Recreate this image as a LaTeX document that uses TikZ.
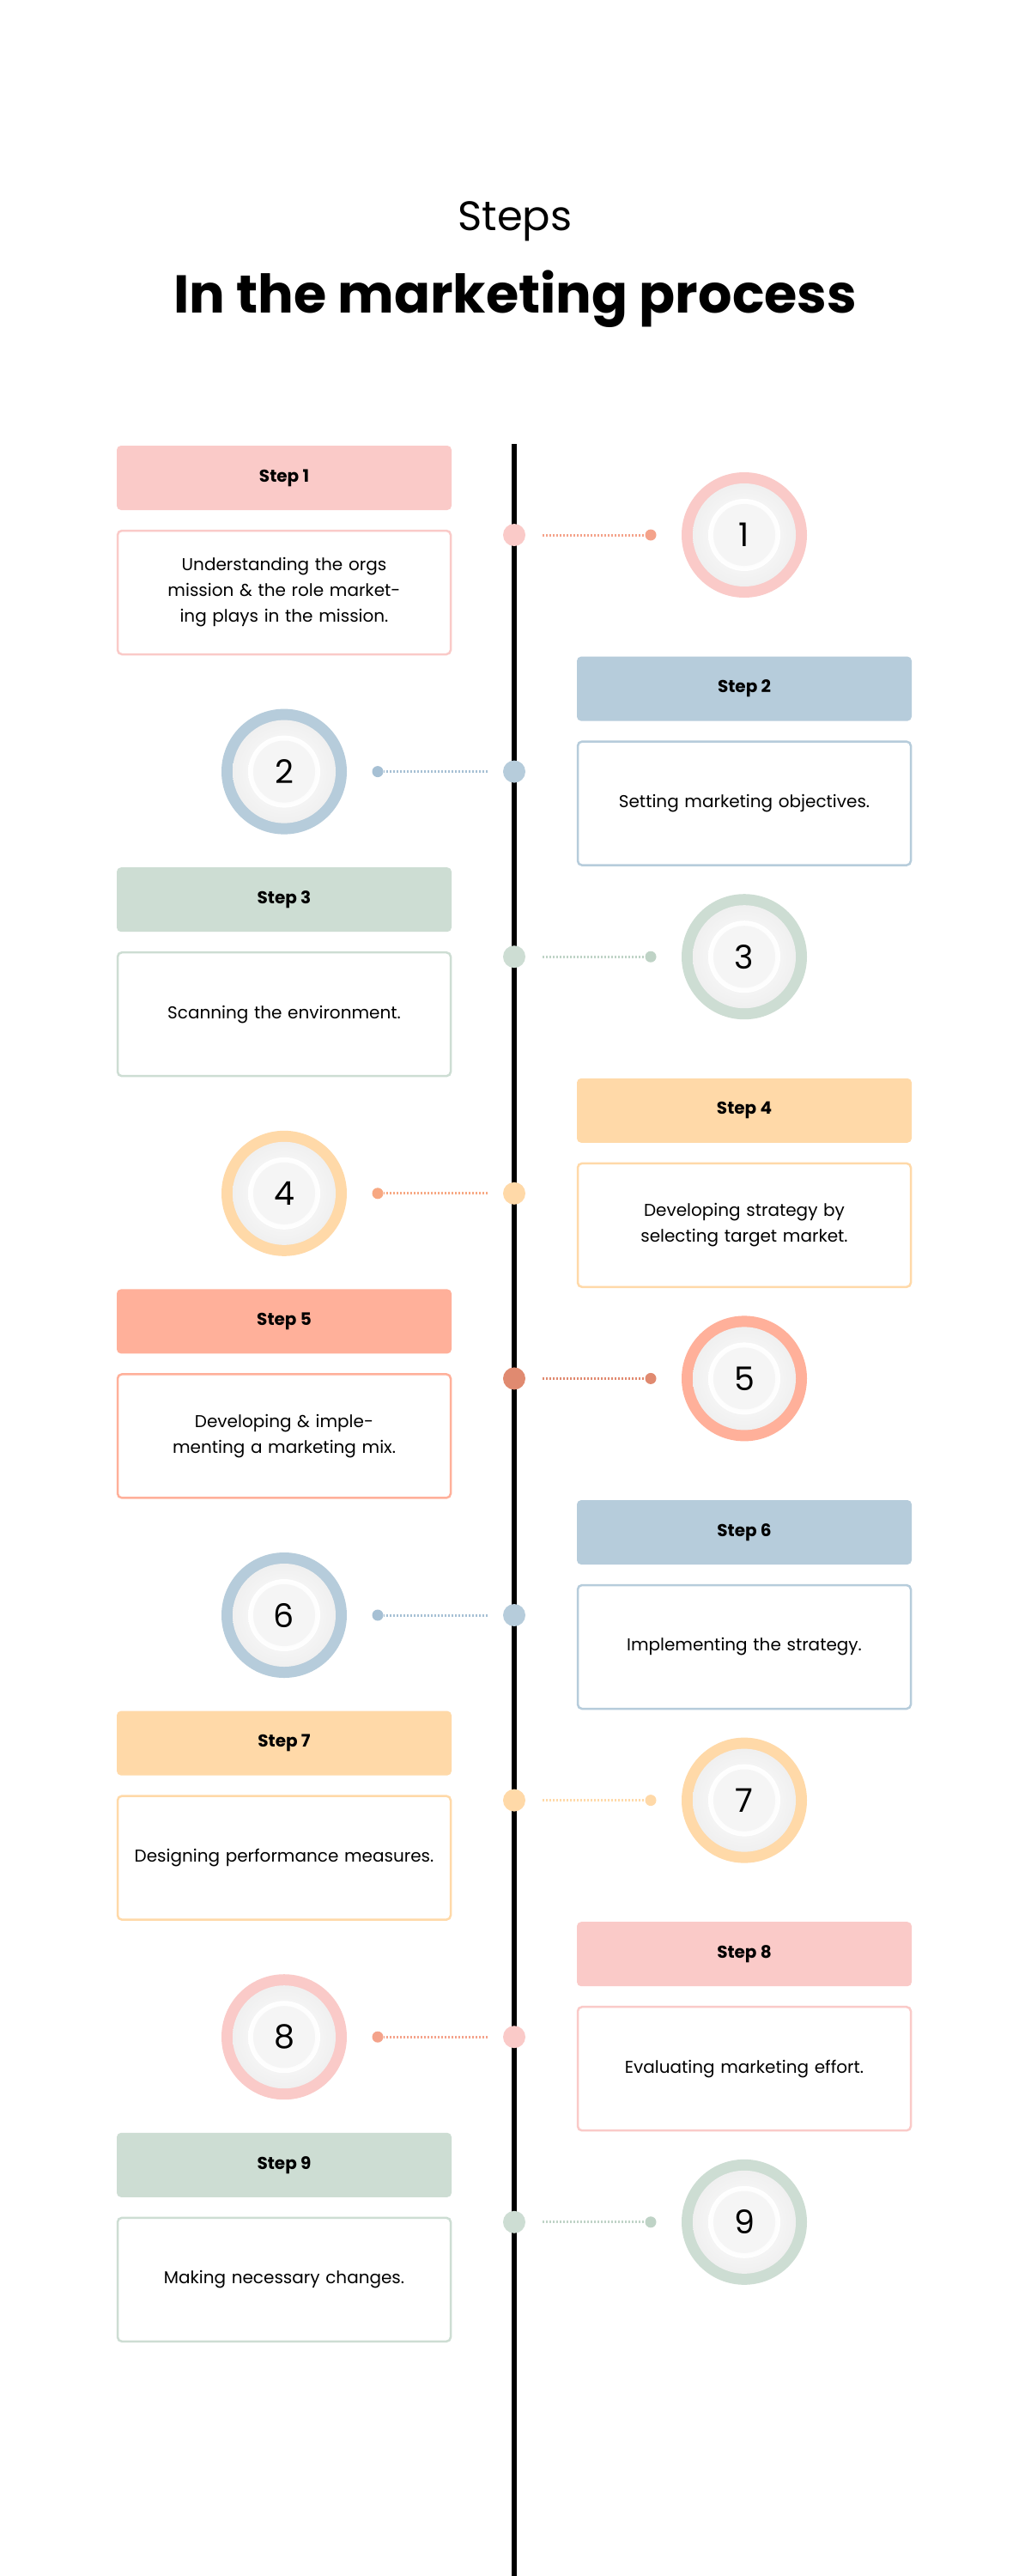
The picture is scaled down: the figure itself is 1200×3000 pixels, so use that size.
\documentclass[tikz,border=0pt]{standalone}
\usepackage{fontspec}
\setmainfont{Poppins}
\definecolor{cpink}{HTML}{FACAC8}
\definecolor{cblue}{HTML}{B6CCDB}
\definecolor{cgreen}{HTML}{CDDDD3}
\definecolor{corange}{HTML}{FFD9A8}
\definecolor{csalmon}{HTML}{FFB09A}
\definecolor{dpink}{HTML}{F4A38B}
\definecolor{dblue}{HTML}{A6C0D4}
\definecolor{dgreen}{HTML}{BFD3C6}
\definecolor{dorange}{HTML}{F7A882}
\definecolor{dsalmon}{HTML}{E08A70}
\begin{document}
\begin{tikzpicture}[x=1pt,y=-1pt,
  hdr/.style={fill=#1,rounded corners=5pt,minimum width=390pt,minimum height=75pt,inner sep=0pt,font=\fontsize{20}{24}\selectfont\bfseries},
  txt/.style={draw=#1,line width=2.5pt,fill=white,rounded corners=5pt,minimum width=388pt,minimum height=144pt,align=center,text width=370pt,font=\fontsize{20}{30}\selectfont},
  tdot/.style={circle,fill=#1,minimum size=26pt,inner sep=0pt},
  edot/.style={circle,fill=#1,minimum size=13pt,inner sep=0pt},
  link/.style={draw=#1,line width=3pt,dash pattern=on 2pt off 2pt}]
\useasboundingbox (0,0) rectangle (1200,3000);
\fill[white] (0,0) rectangle (1200,3000);
\node (t1) at (600,258) {\fontsize{48}{56}\selectfont Steps};
\node (t2) at (600,348) {\fontsize{62}{70}\selectfont\bfseries In the marketing process};
\coordinate (ltop) at (599,517);
\coordinate (lbot) at (599,3000);
\draw[line width=6pt] (ltop) -- (lbot);
\foreach \n/\c/\d/\t in {1/cpink/dpink/{Understanding the orgs mission \& the role marketing plays in the mission.},
  2/cblue/dblue/{Setting marketing objectives.},
  3/cgreen/dgreen/{Scanning the environment.},
  4/corange/dorange/{Developing strategy by selecting target market.},
  5/csalmon/dsalmon/{Developing \& implementing a marketing mix.},
  6/cblue/dblue/{Implementing the strategy.},
  7/corange/corange/{Designing performance measures.},
  8/cpink/dpink/{Evaluating marketing effort.},
  9/cgreen/dgreen/{Making necessary changes.}}{
  \pgfmathsetmacro{\yy}{519+245.6*(\n-1)}
  \pgfmathtruncatemacro{\odd}{mod(\n,2)}
  \ifnum\odd=1
    \def\bx{331}\def\cx{867}\def\dy{104}\def\ex{758}\def\sx{632}
  \else
    \def\bx{867}\def\cx{331}\def\dy{134}\def\ex{440}\def\sx{568}
  \fi
  \ifnum\n=5 \def\tc{dsalmon}\else\edef\tc{\c}\fi
  \node[hdr=\c] (h\n) at (\bx,\yy+37.5) {Step \n};
  \node[txt=\c] (b\n) at (\bx,\yy+171) {\t};
  \node[tdot=\tc] (td\n) at (599,\yy+\dy) {};
  \node[edot=\d] (ed\n) at (\ex,\yy+\dy) {};
  \coordinate (s\n) at (\sx,\yy+\dy);
  \draw[link=\d] (s\n) -- (ed\n);
  \node[circle,fill=\c,minimum size=146pt] (c\n) at (\cx,\yy+\dy) {};
  \shade[inner color=white,outer color=gray!12] (c\n.center) circle (60pt);
  \shade[inner color=gray!10,outer color=white] (c\n.center) circle (42pt);
  \fill[gray!8] (c\n.center) circle (36pt);
  \node[font=\fontsize{38}{44}\selectfont] at (c\n.center) {\n};
}
\end{tikzpicture}
\end{document}
